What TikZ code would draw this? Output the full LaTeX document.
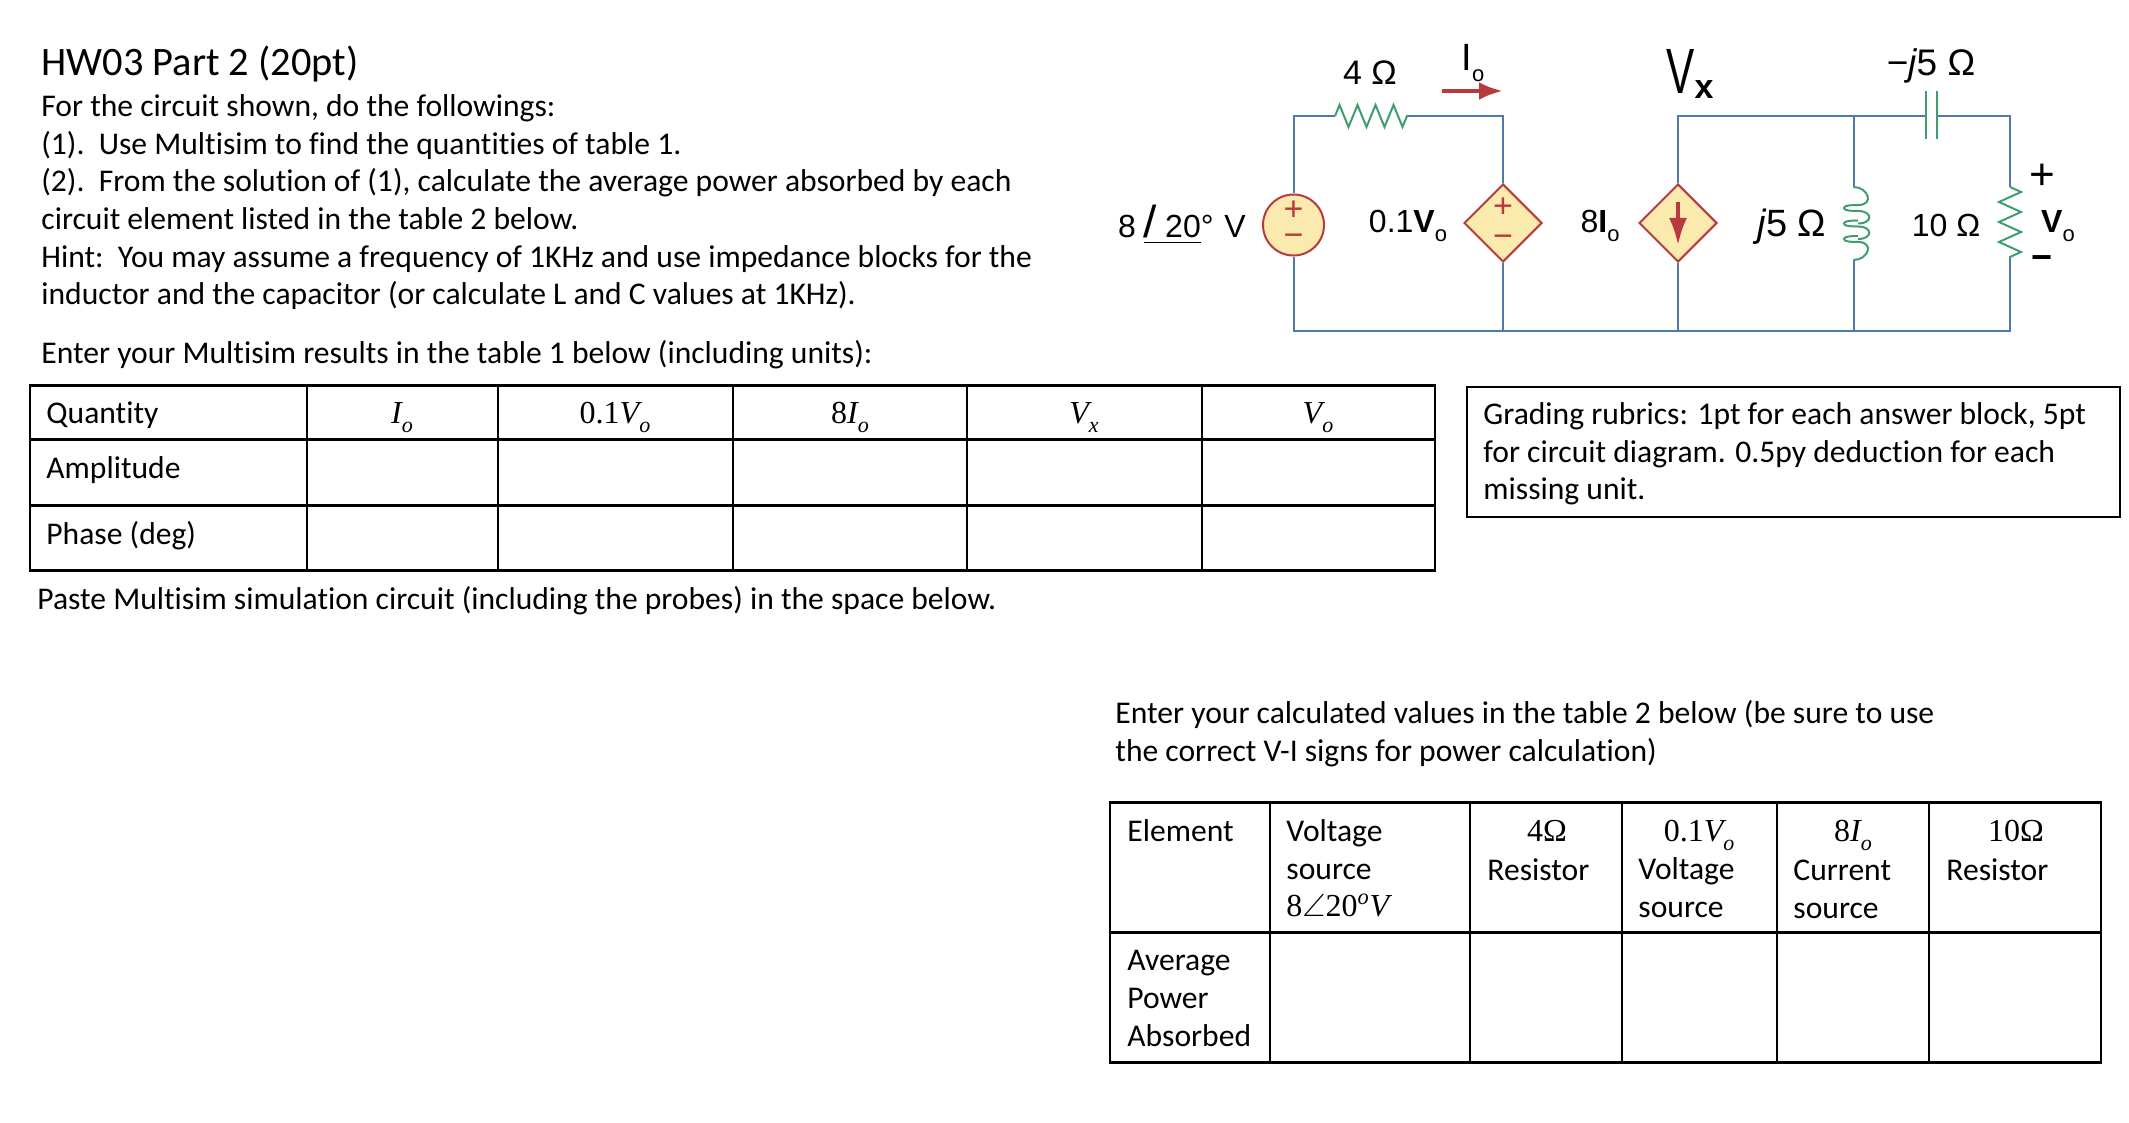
\documentclass[tikz,border=0pt]{standalone}
\usepackage{amsmath, amssymb}
\usepackage{xcolor}
\usepackage{graphicx}
\usepackage{fontspec}
\setmainfont[Ligatures=NoCommon]{Carlito}
\newfontfamily\circfont{Liberation Sans}
\newfontfamily\cellfont{Liberation Serif}
\usetikzlibrary{positioning, shapes.geometric, decorations.pathmorphing, arrows.meta}

\definecolor{wireblue}{HTML}{4F79A8}
\definecolor{partgreen}{HTML}{3F9E6E}
\definecolor{srcred}{HTML}{B83A3E}
\definecolor{srcfill}{HTML}{FBEAAE}

\newcommand{\subo}{\raisebox{-0.3em}{\fontsize{11}{11}\selectfont o}}
\newcommand{\cellvar}[2]{{\itshape #1}\raisebox{-0.3em}{\fontsize{11}{11}\itshape\selectfont #2}}

\tikzset{
    body/.style={anchor=base west, inner sep=0pt, align=left, font=\fontsize{15.8}{18.85}\selectfont},
    cellc/.style={anchor=base, inner sep=0pt, font=\cellfont\fontsize{16}{18.85}\selectfont},
    grid/.style={black, line width=1pt},
    rule/.style={black, line width=1.4pt},
    wire/.style={wireblue, line width=1pt},
    part/.style={partgreen, line width=1pt},
    vsource/.style={draw=srcred, fill=srcfill, circle, line width=1pt, inner sep=0pt, minimum size=30.5pt},
    depsource/.style={draw=srcred, fill=srcfill, diamond, aspect=1, line width=1pt, inner sep=0pt, minimum width=39pt, minimum height=39pt},
    circ/.style={inner sep=0pt, font=\circfont\fontsize{16}{16}\selectfont},
    sign/.style={inner sep=0pt, text=srcred, font=\circfont\fontsize{17}{17}\selectfont},
}

\begin{document}
\begin{tikzpicture}[x=0.5pt, y=-0.5pt]
    \useasboundingbox (0,0) rectangle (2129,1123);

    % Question text
    \node[body, font=\fontsize{20.2}{24}\selectfont] (title) at (41,76) {HW03 Part 2 (20pt)};
    \node[body, anchor=north west] (intro) at (41,94) {For the circuit shown, do the followings:\\
        (1).\ \ Use Multisim to find the quantities of table 1.\\
        (2).\ \ From the solution of (1), calculate the average power absorbed by each\\
        circuit element listed in the table 2 below.\\
        Hint:\ \ You may assume a frequency of 1KHz and use impedance blocks for the\\
        inductor and the capacitor (or calculate L and C values at 1KHz).};
    \node[body] (enter1) at (41,363) {Enter your Multisim results in the table 1 below (including units):};
    \node[body] (paste) at (37,609.5) {Paste Multisim simulation circuit (including the probes) in the space below.};
    \node[body, anchor=north west] (enter2) at (1115,700) {Enter your calculated values in the table 2 below (be sure to use\\
        the correct V-I signs for power calculation)};

    % Table 1
    \foreach \x in {30,307,498,733,967,1202,1435}
        \draw[grid] (\x,385.5) -- (\x,570.5);
    \foreach \y in {385.5,439.5,505.5,570.5}
        \draw[rule] (29,\y) -- (1436,\y);
    \node[body] (quantity) at (46,423) {Quantity};
    \node[body] (amplitude) at (46,478) {Amplitude};
    \node[body] (phase) at (46,544) {Phase (deg)};
    \node[cellc] (h1) at (402,423) {\cellvar{I}{o}};
    \node[cellc] (h2) at (615,423) {0.1\cellvar{V}{o}};
    \node[cellc] (h3) at (850,423) {8\cellvar{I}{o}};
    \node[cellc] (h4) at (1084,423) {\cellvar{V}{x}};
    \node[cellc] (h5) at (1318,423) {\cellvar{V}{o}};

    % Grading box
    \node[draw=black, line width=1.2pt, minimum width=326.5pt, minimum height=65pt, anchor=north west] (rubric) at (1466,386) {};
    \node[body, anchor=north west] (rubrictext) at (1483,402) {Grading rubrics: 1pt for each answer block, 5pt\\
        for circuit diagram. 0.5py deduction for each\\
        missing unit.};

    % Table 2
    \foreach \x in {1110,1270,1470,1621.5,1777,1929,2101}
        \draw[grid] (\x,802.5) -- (\x,1062.5);
    \foreach \y in {802.5,932.5,1062.5}
        \draw[rule] (1109,\y) -- (2102,\y);
    \node[body] (element) at (1127,841) {Element};
    \node[body, anchor=north west] (voltsrc) at (1286,819) {Voltage\\source\\{\cellfont\fontsize{16}{18.85}\selectfont 8$\angle$20\textsuperscript{\itshape o}{\itshape V}}};
    \node[cellc] (t4) at (1547,841) {4Ω};
    \node[body] (t4b) at (1487,880) {Resistor};
    \node[cellc] (t01) at (1699,841) {0.1\cellvar{V}{o}};
    \node[body, anchor=north west] (t01b) at (1638,857) {Voltage\\source};
    \node[cellc] (t8) at (1853,841) {8\cellvar{I}{o}};
    \node[body, anchor=north west] (t8b) at (1793,860) {Current\\source};
    \node[cellc] (t10) at (2016,841) {10Ω};
    \node[body] (t10b) at (1946,880) {Resistor};
    \node[body, anchor=north west] (average) at (1127,950) {Average\\Power\\Absorbed};

    % Circuit components
    \node[vsource] (vs) at (1293.5,225) {};
    \node[depsource] (dv) at (1503,223) {};
    \node[depsource] (di) at (1678,223) {};

    \node[sign] (vsplus) at (1293.5,211) {+};
    \node[sign] (vsminus) at (1293.5,240) {−};
    \node[sign] (dvplus) at (1503,208) {+};
    \node[sign] (dvminus) at (1503,241) {−};

    \coordinate (tl) at (1293.5,116);
    \coordinate (r4a) at (1335,116);
    \coordinate (r4b) at (1408,116);
    \coordinate (tm) at (1503,116);
    \coordinate (tv) at (1678,116);
    \coordinate (tj) at (1853.5,116);
    \coordinate (capa) at (1926,116);
    \coordinate (capb) at (1937,116);
    \coordinate (tr) at (2010,116);
    \coordinate (la) at (1853.5,187);
    \coordinate (lb) at (1853.5,260);
    \coordinate (ra) at (2010,187);
    \coordinate (rb) at (2010,260);
    \coordinate (bl) at (1293.5,330.5);
    \coordinate (bm) at (1503,330.5);
    \coordinate (bv) at (1678,330.5);
    \coordinate (bj) at (1853.5,330.5);
    \coordinate (br) at (2010,330.5);

    % Wires
    \draw[wire] (vs) -- (tl) -- (r4a);
    \draw[wire] (r4b) -- (tm) -- (dv);
    \draw[wire] (di) -- (tv) -- (tj) -- (capa);
    \draw[wire] (capb) -- (tr) -- (ra);
    \draw[wire] (tj) -- (la);
    \draw[wire] (vs) -- (bl) -- (br) -- (rb);
    \draw[wire] (dv) -- (bm);
    \draw[wire] (di) -- (bv);
    \draw[wire] (lb) -- (bj);

    % Passive parts
    \draw[part, decorate, decoration={zigzag, segment length=9pt, amplitude=5.5pt}] (r4a) -- (r4b);
    \draw[part, decorate, decoration={zigzag, segment length=10pt, amplitude=5.5pt}] (ra) -- (rb);
    \draw[part] (la) .. controls (1868,187) and (1875,205) .. (1858,205);
    \foreach \y in {208,223.5,239}
        \draw[part] (1858,\y-3) .. controls (1850,\y-3) and (1844,\y-2.5) .. (1844,\y)
            .. controls (1844,\y+2.5) and (1850,\y+3) .. (1858,\y+3);
    \foreach \y in {211,226.5}
        \draw[part] (1858,\y) .. controls (1873,\y) and (1873,\y+12.5) .. (1858,\y+12.5);
    \draw[part] (1858,242) .. controls (1875,242) and (1868,260) .. (lb);
    \draw[part] (1926,91) -- (1926,139);
    \draw[part] (1937,91) -- (1937,139);

    % Io arrow and the arrow in the current source
    \coordinate (ioa) at (1442,91);
    \coordinate (iob) at (1503,91);
    \draw[srcred, line width=2.2pt, -{Latex[length=12pt, width=9pt]}] (ioa) -- (iob);
    \coordinate (dia) at (1678,202);
    \coordinate (dib) at (1678,246);
    \draw[srcred, line width=2.4pt, -{Latex[length=14pt, width=9pt]}] (dia) -- (dib);

    % Circuit labels
    \node[circ, font=\circfont\fontsize{17}{17}\selectfont] (r4label) at (1370,73) {4 Ω};
    \node[circ, font=\circfont\fontsize{19}{19}\selectfont] (iolabel) at (1473,63) {I\subo};
    \node[circ] (vxlabel) at (1690,74) {\fontsize{32}{32}\selectfont\scalebox{0.66}[1]{V}\raisebox{-0.08em}{\bfseries\fontsize{17}{17}\selectfont x}};
    \node[circ, font=\circfont\fontsize{18.5}{18.5}\selectfont] (caplabel) at (1931,66) {−{\itshape j}5 Ω};
    \node[circ, left=8pt of vs] (vslabel) {8\hspace{4pt}\underline{\scalebox{1.5}[1.4]{/}\hspace{4pt}20}\textdegree{}\,\,V};
    \node[circ] (dvlabel) at (1408,226) {0.1\textbf{V}\subo};
    \node[circ] (dilabel) at (1600,226) {8\textbf{I}\subo};
    \node[circ, font=\circfont\fontsize{19}{19}\selectfont] (llabel) at (1792,227) {{\itshape j}5 Ω};
    \node[circ] (r10label) at (1946,225) {10 Ω};
    \node[circ] (volabel) at (2058,226) {\textbf{V}\subo};
    \node[circ, font=\circfont\fontsize{22}{22}\selectfont] (voplus) at (2042,177) {+};
    \node[circ, font=\circfont\bfseries\fontsize{18}{18}\selectfont] (vominus) at (2042,263) {−};
\end{tikzpicture}
\end{document}
